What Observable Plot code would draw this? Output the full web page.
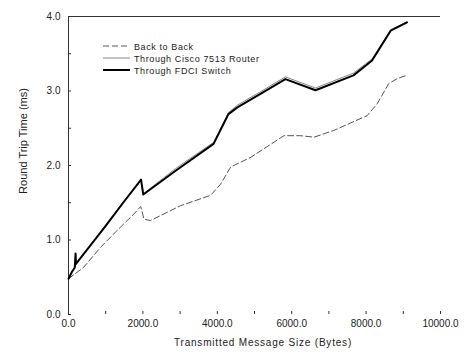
<!DOCTYPE html>
<html>
<head>
<meta charset="utf-8">
<script src="https://cdn.jsdelivr.net/npm/d3@7"></script>
<script src="https://cdn.jsdelivr.net/npm/@observablehq/plot@0.6"></script>
<style>
  html, body { margin: 0; padding: 0; background: #fff; }
  #chart { width: 474px; height: 357px; }
  svg { font-family: "Liberation Sans", Arial, sans-serif; }
</style>
</head>
<body>
<div id="chart"></div>
<script>
// ---- data ----
const seriesNames = ["Back to Back", "Through Cisco 7513 Router", "Through FDCI Switch"];

const b2bSizes = [0, 400, 860, 1310, 1760, 1940, 2030, 2200, 3010, 3820, 4090, 4360, 4900, 5790, 6240, 6600, 7130, 8030, 8300, 8610, 8850, 9100];
const b2bTimes = [0.48, 0.63, 0.90, 1.13, 1.35, 1.45, 1.28, 1.26, 1.46, 1.60, 1.75, 1.98, 2.11, 2.40, 2.40, 2.38, 2.47, 2.67, 2.83, 3.10, 3.17, 3.21];

const ciscoSizes = [0, 90, 170, 190, 200, 1000, 1500, 1950, 2010, 2880, 3900, 4300, 4540, 5160, 5830, 6640, 7660, 8160, 8660, 9100];
const ciscoTimes = [0.48, 0.57, 0.63, 0.80, 0.67, 1.20, 1.53, 1.80, 1.62, 1.96, 2.31, 2.71, 2.81, 2.99, 3.19, 3.04, 3.24, 3.43, 3.82, 3.93];

const fdciSizes = [0, 90, 170, 190, 200, 1000, 1500, 1950, 2010, 2880, 3900, 4300, 4540, 5160, 5830, 6640, 7660, 8160, 8660, 9100];
const fdciTimes = [0.48, 0.57, 0.63, 0.82, 0.68, 1.19, 1.52, 1.81, 1.61, 1.93, 2.29, 2.69, 2.78, 2.96, 3.16, 3.01, 3.21, 3.41, 3.81, 3.92];

const xTickLabels = [0, 2000, 4000, 6000, 8000, 10000];
const xAllTicks = [0, 1000, 2000, 3000, 4000, 5000, 6000, 7000, 8000, 9000, 10000];
const yTickLabels = [0, 1, 2, 3, 4];
const yAllTicks = [0, 0.5, 1, 1.5, 2, 2.5, 3, 3.5, 4];

const xTitle = "Transmitted Message Size (Bytes)";
const yTitle = "Round Trip Time (ms)";

// ---- build ----
const toRows = (xs, ys) => xs.map((x, i) => ({x, y: ys[i]}));
const b2b = toRows(b2bSizes, b2bTimes);
const cisco = toRows(ciscoSizes, ciscoTimes);
const fdci = toRows(fdciSizes, fdciTimes);

const W = 474, H = 357, mL = 68, mR = 34, mT = 16, mB = 43;
const innerW = W - mL - mR, innerH = H - mT - mB;

const styles = [
  {stroke: "#555", strokeWidth: 1, strokeDasharray: "6,3"},
  {stroke: "#888", strokeWidth: 1},
  {stroke: "#000", strokeWidth: 2}
];

const plot = Plot.plot({
  width: W, height: H,
  marginLeft: mL, marginRight: mR, marginTop: mT, marginBottom: mB,
  style: {fontFamily: "'Liberation Sans', Arial, sans-serif", background: "#fff", color: "#222"},
  x: {domain: [0, 10000]},
  y: {domain: [0, 4]},
  marks: [
    Plot.ruleX([0], {stroke: "#333"}),
    Plot.ruleY([4], {stroke: "#333"}),
    Plot.tickX(xAllTicks, {x: d => d, stroke: "#333", insetTop: innerH - 3}),
    Plot.tickY(yAllTicks, {y: d => d, stroke: "#333", insetRight: innerW - 3}),
    Plot.axisX({ticks: xTickLabels, tickSize: 0, tickPadding: 5, tickFormat: d => d.toFixed(1), label: null, fontSize: 10}),
    Plot.axisY({ticks: yTickLabels, tickSize: 0, tickPadding: 8, tickFormat: d => d.toFixed(1), label: null, fontSize: 10}),
    Plot.line(b2b, {x: "x", y: "y", ...styles[0]}),
    Plot.line(cisco, {x: "x", y: "y", ...styles[1]}),
    Plot.line(fdci, {x: "x", y: "y", ...styles[2]})
  ]
});

document.getElementById("chart").appendChild(plot);

const svg = d3.select(plot);
// axis titles
svg.append("text")
  .attr("x", 263).attr("y", 346)
  .attr("text-anchor", "middle")
  .attr("font-size", 10).attr("letter-spacing", 0.8)
  .attr("fill", "#222")
  .text(xTitle);
svg.append("text")
  .attr("transform", "translate(27,141) rotate(-90)")
  .attr("text-anchor", "middle")
  .attr("font-size", 11)
  .attr("fill", "#222")
  .text(yTitle);

// legend
const lg = svg.append("g").attr("transform", "translate(103,46)");
seriesNames.forEach((name, i) => {
  const g = lg.append("g").attr("transform", `translate(0,${i * 12})`);
  g.append("line").attr("x1", 0).attr("x2", 27).attr("y1", 0).attr("y2", 0)
    .attr("stroke", styles[i].stroke)
    .attr("stroke-width", styles[i].strokeWidth)
    .attr("stroke-dasharray", styles[i].strokeDasharray || null);
  g.append("text").attr("x", 31).attr("y", 3.5)
    .attr("text-anchor", "start")
    .attr("font-size", 9).attr("letter-spacing", 0.6)
    .attr("fill", "#222")
    .text(name);
});
</script>
</body>
</html>
